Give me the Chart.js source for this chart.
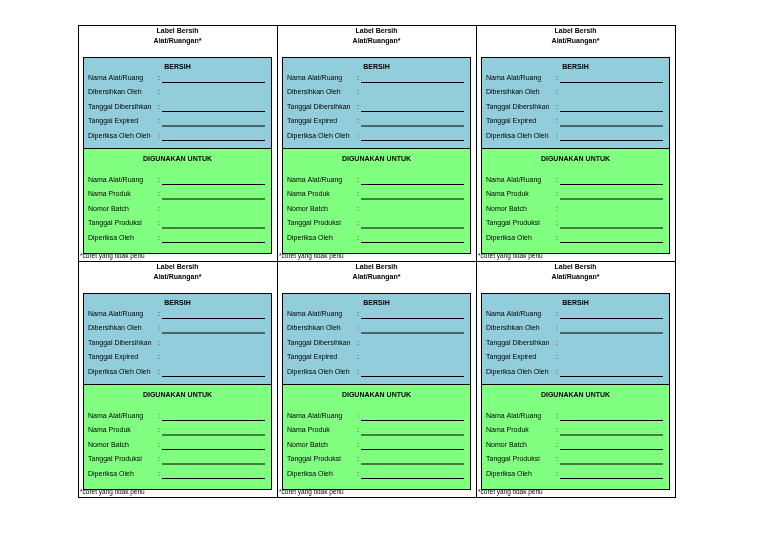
<!DOCTYPE html>
<html><head><meta charset="utf-8">
<script src="https://cdn.jsdelivr.net/npm/chart.js@4"></script>
<style>html,body{margin:0;padding:0;background:#fff}#w{width:768px;height:543px}</style>
</head><body><div id="w"><canvas id="c"></canvas></div>
<script>
const headerLines = ["Label Bersih", "Alat/Ruangan*"];
const bersihTitle = "BERSIH";
const bersihFields = ["Nama Alat/Ruang", "Dibersihkan Oleh", "Tanggal Dibersihkan", "Tanggal Expired", "Diperiksa Oleh Oleh"];
const digunakanTitle = "DIGUNAKAN UNTUK";
const digunakanFields = ["Nama Alat/Ruang", "Nama Produk", "Nomor Batch", "Tanggal Produksi", "Diperiksa Oleh"];
const footnote = "*coret yang tidak perlu";
const bersihLinesTop = [1,0,1,1,1], bersihLinesBottom = [1,1,0,0,1];
const gunaLinesTop = [1,1,0,1,1], gunaLinesBottom = [1,1,1,1,1];
const colEdges = [78, 277, 476, 675];
const rowEdges = [25, 261, 497];

const formPlugin = {
  id: 'form',
  afterDraw(chart) {
    const ctx = chart.ctx, X = v => chart.scales.x.getPixelForValue(v), Y = v => chart.scales.y.getPixelForValue(v);
    ctx.save();
    for (let r = 0; r < 2; r++) for (let c = 0; c < 3; c++) {
      const x0 = colEdges[c], y0 = rowEdges[r], cx = x0 + 99.5;
      const bx = x0 + 5, bw = 188;
      // blue box
      ctx.fillStyle = '#92CDDC'; ctx.fillRect(X(bx), Y(y0+32), X(bx+bw)-X(bx), Y(y0+123)-Y(y0+32));
      ctx.fillStyle = '#80FF80'; ctx.fillRect(X(bx), Y(y0+123), X(bx+bw)-X(bx), Y(y0+228)-Y(y0+123));
      ctx.strokeStyle = '#000'; ctx.lineWidth = 1;
      ctx.strokeRect(X(bx)+0.5, Y(y0+32)+0.5, X(bx+bw)-X(bx), Y(y0+123)-Y(y0+32));
      ctx.strokeRect(X(bx)+0.5, Y(y0+123)+0.5, X(bx+bw)-X(bx), Y(y0+228)-Y(y0+123));
      ctx.fillStyle = '#000'; ctx.textBaseline = 'middle';
      ctx.font = 'bold 7px "Liberation Sans", Arial'; ctx.textAlign = 'center';
      ctx.fillText(headerLines[0], X(cx), Y(y0+6));
      ctx.fillText(headerLines[1], X(cx), Y(y0+16));
      ctx.fillText(bersihTitle, X(cx), Y(y0+42));
      ctx.fillText(digunakanTitle, X(cx), Y(y0+134));
      ctx.font = '7px "Liberation Sans", Arial'; ctx.textAlign = 'left';
      const bl = r ? bersihLinesBottom : bersihLinesTop, gl = r ? gunaLinesBottom : gunaLinesTop;
      const drawRow = (label, y, line) => {
        ctx.fillText(label, X(x0+10), Y(y));
        ctx.fillText(':', X(x0+80), Y(y));
        if (line) { ctx.beginPath(); ctx.moveTo(X(x0+84), Y(y+4)+0.5); ctx.lineTo(X(x0+187), Y(y+4)+0.5); ctx.stroke(); }
      };
      bersihFields.forEach((f, i) => drawRow(f, y0 + 53 + i*14.5, bl[i]));
      digunakanFields.forEach((f, i) => drawRow(f, y0 + 155 + i*14.5, gl[i]));
      ctx.font = '6.5px "Liberation Sans", Arial';
      ctx.fillText(footnote, X(x0+2), Y(y0+231));
    }
    ctx.strokeStyle = '#000'; ctx.lineWidth = 1;
    colEdges.forEach(x => { ctx.beginPath(); ctx.moveTo(X(x)+0.5, Y(rowEdges[0])); ctx.lineTo(X(x)+0.5, Y(rowEdges[2])); ctx.stroke(); });
    rowEdges.forEach(y => { ctx.beginPath(); ctx.moveTo(X(colEdges[0]), Y(y)+0.5); ctx.lineTo(X(colEdges[3])+1, Y(y)+0.5); ctx.stroke(); });
    ctx.restore();
  }
};

new Chart(document.getElementById('c'), {
  type: 'scatter',
  data: { datasets: [{ data: [] }] },
  options: {
    responsive: true, maintainAspectRatio: false, animation: false,
    layout: { padding: 0 },
    plugins: { legend: { display: false }, tooltip: { enabled: false } },
    scales: {
      x: { type: 'linear', min: 0, max: 768, display: false },
      y: { type: 'linear', min: 0, max: 543, reverse: true, display: false }
    }
  },
  plugins: [formPlugin]
});
</script></body></html>
